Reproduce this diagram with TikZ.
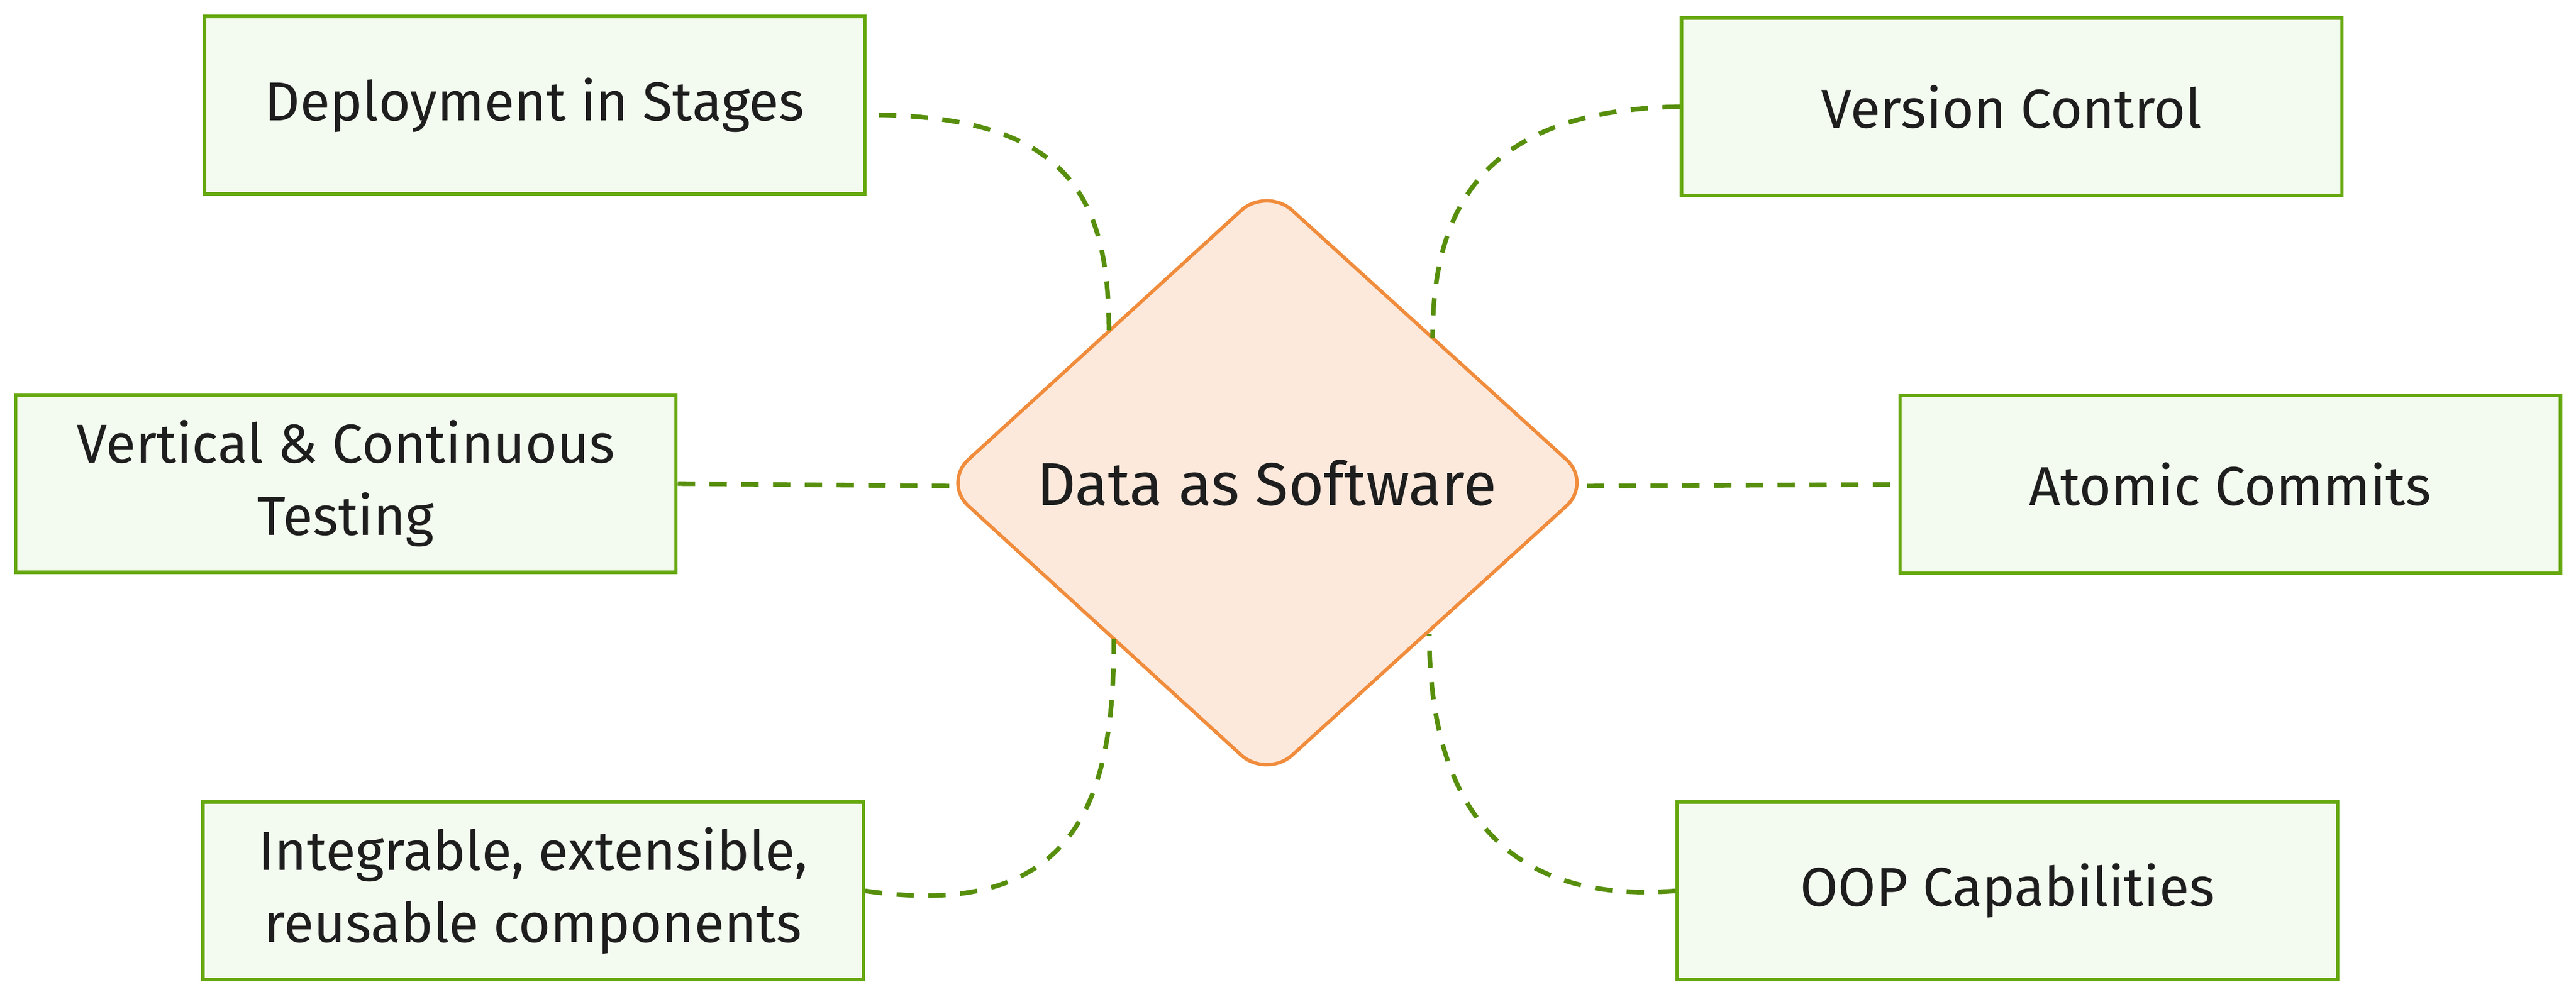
\documentclass[tikz,border=0pt]{standalone}
\usepackage{fontspec}
\setmainfont{Fira Sans}
\definecolor{bx}{HTML}{66A80F}
\definecolor{bxf}{HTML}{F3FAEF}
\definecolor{dm}{HTML}{F08C3C}
\definecolor{dmf}{HTML}{FDE9DC}
\definecolor{tx}{HTML}{1E1E1E}
\begin{document}
\begin{tikzpicture}[x=0.1mm,y=-0.1mm,
  box/.style={draw=bx,fill=bxf,line width=0.6pt,minimum width=4.02cm,minimum height=1.08cm,align=center,text=tx,font=\fontsize{9.5}{12.5}\selectfont},
  conn/.style={draw=bx!85!black,line width=0.8pt,dash pattern=on 3pt off 2.5pt}]
\useasboundingbox (0,0) rectangle (1568,607);
\node[box] (b1) at (325.5,64) {Deployment in Stages};
\node[box] (b2) at (1224.5,65) {Version Control};
\node[box] (b3) at (210.5,294.5) {Vertical \& Continuous\\Testing};
\node[box] (b4) at (1357.5,295) {Atomic Commits};
\node[box] (b5) at (324.5,542.5) {Integrable, extensible,\\reusable components};
\node[box] (b6) at (1222,542.5) {OOP Capabilities};
\draw[draw=dm,fill=dmf,line width=0.6pt,rounded corners=6pt] (771,114) -- (969,294) -- (771,474) -- (574,294) -- cycle;
\node[text=tx,font=\fontsize{10.5}{13}\selectfont] (d) at (771,294) {Data as Software};
\coordinate (d1) at (675,202);
\coordinate (d2) at (872,206);
\coordinate (d3) at (578,296);
\coordinate (d4) at (966,296);
\coordinate (d5) at (678,389);
\coordinate (d6) at (870,386);
\draw[conn] (535,70) .. controls (650,72) and (675,120) .. (d1);
\draw[conn] (b2.west) .. controls (900,67) and (872,130) .. (d2);
\draw[conn] (b3.east) -- (d3);
\draw[conn] (d4) -- (b4.west);
\draw[conn] (b5.east) .. controls (660,562) and (678,480) .. (d5);
\draw[conn] (b6.west) .. controls (900,552) and (870,470) .. (d6);
\end{tikzpicture}
\end{document}
